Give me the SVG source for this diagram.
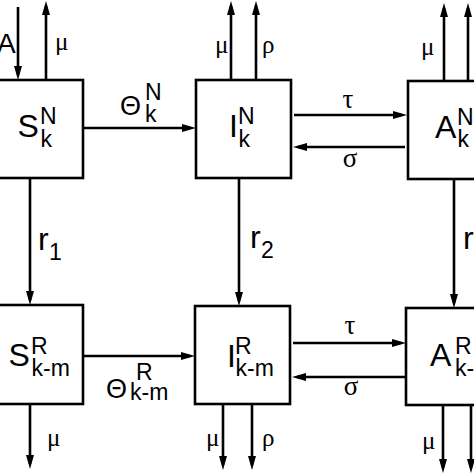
<svg xmlns="http://www.w3.org/2000/svg" width="474" height="474" viewBox="0 0 474 474">
<style>
.box{fill:#fff;stroke:#000;stroke-width:2.6}
.c line{stroke:#000;stroke-width:2.6;fill:none;marker-end:url(#ah)}
.m{font-family:"Liberation Sans",Arial,sans-serif;font-size:32px;fill:#000}
.s{font-size:23px}
.g{font-family:"Liberation Serif","Times New Roman",serif;font-size:25px;fill:#000}
.t{font-size:27px}
</style>
<defs>
<marker id="ah" markerUnits="userSpaceOnUse" markerWidth="14" markerHeight="8" refX="9" refY="4" orient="auto"><path d="M0,0L14,4L0,8z" fill="#000"/></marker>
</defs>
<rect width="474" height="474" fill="#fff"/>
<g id="connectors" class="c">
<line x1="18" y1="7" x2="18" y2="75"/>
<line x1="46" y1="80" x2="46" y2="6"/>
<line x1="231" y1="80" x2="231" y2="6"/>
<line x1="256" y1="80" x2="256" y2="6"/>
<line x1="444" y1="81" x2="444" y2="8"/>
<line x1="468" y1="81" x2="468" y2="8"/>
<line x1="83" y1="128" x2="191" y2="128"/>
<line x1="294" y1="115" x2="402" y2="115"/>
<line x1="405" y1="147" x2="298" y2="147"/>
<line x1="30" y1="178" x2="30" y2="300"/>
<line x1="239" y1="178" x2="239" y2="301"/>
<line x1="454" y1="179" x2="454" y2="303"/>
<line x1="83" y1="356" x2="190" y2="356"/>
<line x1="293" y1="343" x2="401" y2="343"/>
<line x1="406" y1="377" x2="297" y2="377"/>
<line x1="30" y1="404" x2="30" y2="464"/>
<line x1="223" y1="404" x2="223" y2="465"/>
<line x1="252" y1="404" x2="252" y2="465"/>
<line x1="443" y1="405" x2="443" y2="468"/>
<line x1="471" y1="405" x2="471" y2="468"/>
</g>
<g id="labels">
<text class="m" x="-3" y="53" style="font-size:28px">A</text>
<text class="g" x="55" y="50">μ</text>
<text class="g" x="215" y="53">μ</text>
<text class="g" x="262" y="53">ρ</text>
<text class="g" x="421" y="55">μ</text>
<text class="m" x="120" y="115" style="font-size:27px">Θ</text>
<text class="m s" x="145" y="100">N</text>
<text class="m s" x="145" y="122">k</text>
<text class="g t" x="348" y="108" text-anchor="middle">τ</text>
<text class="g t" x="350" y="167" text-anchor="middle">σ</text>
<text class="m" x="38" y="250">r</text>
<text class="m s" x="49" y="260">1</text>
<text class="m" x="250" y="248">r</text>
<text class="m s" x="261" y="258">2</text>
<text class="m" x="463" y="249">r</text>
<text class="m" x="106" y="398" style="font-size:27px">Θ</text>
<text class="m s" x="136" y="380">R</text>
<text class="m s" x="130" y="400">k-m</text>
<text class="g t" x="350" y="334" text-anchor="middle">τ</text>
<text class="g t" x="351" y="395" text-anchor="middle">σ</text>
<text class="g" x="47" y="446">μ</text>
<text class="g" x="206" y="446">μ</text>
<text class="g" x="262" y="446">ρ</text>
<text class="g" x="422" y="449">μ</text>
</g>
<g id="SN">
<rect class="box" x="-12" y="80" width="95" height="98"/>
<text class="m" x="17.5" y="137">S</text>
<text class="m s" x="40" y="124">N</text>
<text class="m s" x="40.5" y="147">k</text>
</g>
<g id="IN">
<rect class="box" x="196" y="80" width="95" height="98"/>
<text class="m" x="229" y="137">I</text>
<text class="m s" x="238" y="124">N</text>
<text class="m s" x="238.5" y="147">k</text>
</g>
<g id="AN">
<rect class="box" x="408" y="81" width="95" height="98"/>
<text class="m" x="435" y="138">A</text>
<text class="m s" x="457" y="125">N</text>
<text class="m s" x="457.5" y="147">k</text>
</g>
<g id="SR">
<rect class="box" x="-12" y="305" width="95" height="99"/>
<text class="m" x="8.5" y="366">S</text>
<text class="m s" x="31" y="354">R</text>
<text class="m s" x="31.5" y="376">k-m</text>
</g>
<g id="IR">
<rect class="box" x="195" y="306" width="95" height="98"/>
<text class="m" x="227" y="367">I</text>
<text class="m s" x="235" y="354">R</text>
<text class="m s" x="235.5" y="376">k-m</text>
</g>
<g id="AR">
<rect class="box" x="406" y="308" width="95" height="97"/>
<text class="m" x="430" y="366">A</text>
<text class="m s" x="455" y="354">R</text>
<text class="m s" x="455" y="376">k-m</text>
</g>
</svg>
